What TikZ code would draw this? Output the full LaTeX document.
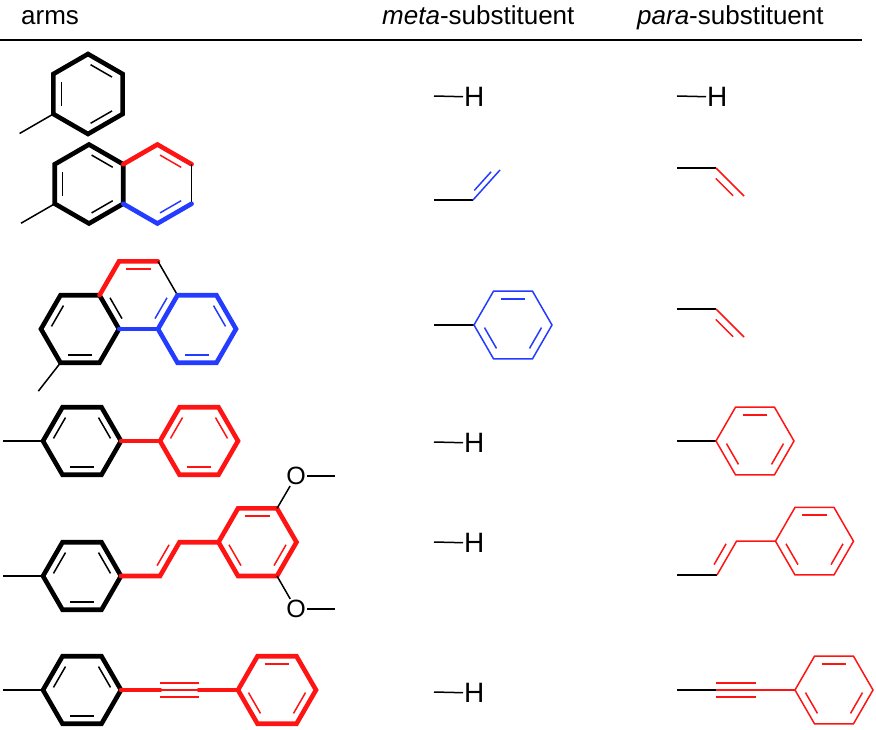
\documentclass[tikz,border=0pt]{standalone}
\usepackage{fontspec}
\setmainfont{Liberation Sans}
\usetikzlibrary{calc}
\definecolor{cred}{RGB}{255,20,20}
\definecolor{cblue}{RGB}{35,60,255}
\tikzset{
  thk/.style={line width=4.6pt,line join=miter,line cap=round},
  thn/.style={line width=1.5pt,line cap=butt},
  txt/.style={inner sep=0pt,font=\fontsize{26}{30}\selectfont},
  atom/.style={inner sep=1pt,font=\fontsize{28}{30}\selectfont},
}
\newcommand\hexat[4]{\foreach \k in {0,...,5}{\coordinate (#1-\k) at ([shift={(#2)}]\k*60+#3:#4);}\coordinate (#1-c) at (#2);}
\newcommand\ring[1]{(#1-0)--(#1-1)--(#1-2)--(#1-3)--(#1-4)--(#1-5)--cycle}
\newcommand\dbl[4][black]{\draw[thn,#1,shorten <=3pt,shorten >=3pt] ($(#4)!0.77!(#2)$) -- ($(#4)!0.77!(#3)$);}
\begin{document}
\begin{tikzpicture}[x=1pt,y=-1pt]
\useasboundingbox (0,0) rectangle (876,730);
% header
\node[txt,anchor=base west] (h1) at (21,25) {arms};
\node[txt,anchor=base west] (h2) at (382,25) {\textit{meta}-substituent};
\node[txt,anchor=base west] (h3) at (637,25) {\textit{para}-substituent};
\draw[line width=2pt] (0,40) -- (862,40);

% row 1
\hexat{A}{88,94}{30}{40}
\draw[thk] \ring{A};
\dbl{A-2}{A-3}{A-c}\dbl{A-4}{A-5}{A-c}\dbl{A-0}{A-1}{A-c}
\coordinate (Am) at ([shift={(A-2)}]150:39);
\draw[thn] (A-2) -- (Am);

% row 2
\hexat{B}{89,184}{30}{39.5}
\hexat{C}{157.4,184}{30}{39.5}
\draw[thk] \ring{B};
\draw[thk,cred] (C-3)--(C-4)--(C-5);
\draw[thn] (C-5)--(C-0);
\draw[thk,cblue] (C-0)--(C-1)--(C-2);
\dbl{B-2}{B-3}{B-c}\dbl{B-4}{B-5}{B-c}\dbl{B-0}{B-1}{B-c}
\dbl[cred]{C-4}{C-5}{C-c}\dbl[cblue]{C-0}{C-1}{C-c}
\coordinate (Bm) at ([shift={(B-2)}]150:39);
\draw[thn] (B-2) -- (Bm);

% row 3
\hexat{D}{80,329}{0}{39}
\hexat{E}{138.5,295.2}{0}{39}
\hexat{F}{197,329}{0}{39}
\draw[thk] \ring{D};
\draw[thk,cred] (E-3)--(E-4)--(E-5);
\draw[thn] (E-5)--(E-0);
\draw[thk,cblue] (E-1)--(E-2);
\draw[thk,cblue] \ring{F};
\dbl{D-3}{D-4}{D-c}\dbl{D-1}{D-2}{D-c}
\dbl{E-2}{E-3}{E-c}\dbl[cred]{E-4}{E-5}{E-c}\dbl[cblue]{E-0}{E-1}{E-c}
\dbl[cblue]{F-5}{F-0}{F-c}\dbl[cblue]{F-1}{F-2}{F-c}
\coordinate (Dm) at ([shift={(D-2)}]128:36);
\draw[thn] (D-2) -- (Dm);

% row 4
\hexat{G}{82,441}{0}{39}
\hexat{H}{199,441}{0}{39}
\draw[thk] \ring{G};
\draw[thk,cred] \ring{H};
\draw[thk,cred] (G-0) -- (H-3);
\dbl{G-3}{G-4}{G-c}\dbl{G-5}{G-0}{G-c}\dbl{G-1}{G-2}{G-c}
\dbl[cred]{H-3}{H-4}{H-c}\dbl[cred]{H-5}{H-0}{H-c}\dbl[cred]{H-1}{H-2}{H-c}
\coordinate (Gm) at (3,441);
\draw[thn] (G-3) -- (Gm);

% row 5
\hexat{I}{82,576}{0}{39}
\coordinate (v1) at (160,576);
\coordinate (v2) at ([shift={(v1)}]300:39);
\coordinate (vc) at ($($(v1)!0.5!(v2)$)+(-29,-17)$);
\hexat{J}{257.5,542.2}{0}{39}
\draw[thk] \ring{I};
\draw[thk,cred] (I-0) -- (v1) -- (v2) -- (J-3);
\draw[thk,cred] \ring{J};
\dbl{I-3}{I-4}{I-c}\dbl{I-5}{I-0}{I-c}\dbl{I-1}{I-2}{I-c}
\dbl[cred]{v1}{v2}{vc}
\dbl[cred]{J-4}{J-5}{J-c}\dbl[cred]{J-0}{J-1}{J-c}\dbl[cred]{J-2}{J-3}{J-c}
\node[inner sep=1pt,font=\fontsize{25}{28}\selectfont] (O1) at (296,476) {O};
\node[inner sep=1pt,font=\fontsize{25}{28}\selectfont] (O2) at (296,609) {O};
\coordinate (O1m) at (335,476);
\coordinate (O2m) at (335,609);
\draw[thn] (J-5) -- (O1); \draw[thn] (O1) -- (O1m);
\draw[thn] (J-1) -- (O2); \draw[thn] (O2) -- (O2m);
\coordinate (Im) at (3,576);
\draw[thn] (I-3) -- (Im);

% row 6
\hexat{K}{82,690}{0}{39}
\coordinate (t2) at (160,690);
\coordinate (t3) at (199,690);
\hexat{L}{277,690}{0}{39}
\draw[thk] \ring{K};
\draw[thk,cred] (K-0) -- (t2);
\draw[thk,cred] (t3) -- (L-3);
\draw[thk,cred] \ring{L};
\draw[thn,cred] (t2) -- (t3);
\draw[thn,cred] ([yshift=-7pt]t2) -- ([yshift=-7pt]t3);
\draw[thn,cred] ([yshift=7pt]t2) -- ([yshift=7pt]t3);
\dbl{K-3}{K-4}{K-c}\dbl{K-5}{K-0}{K-c}\dbl{K-1}{K-2}{K-c}
\dbl[cred]{L-4}{L-5}{L-c}\dbl[cred]{L-0}{L-1}{L-c}\dbl[cred]{L-2}{L-3}{L-c}
\coordinate (Km) at (3,690);
\draw[thn] (K-3) -- (Km);

% meta column
\foreach \n/\y in {m1/96,m4/442,m5/542,m6/692}{
  \node[atom,anchor=west] (\n) at (463,\y+1) {H};
  \coordinate (\n s) at (434,\y);
  \draw[thn] (\n s) -- (\n);
}
\coordinate (m2s) at (434,200); \coordinate (m2a) at (473,200); \coordinate (m2b) at (500,170);
\coordinate (m2c) at (470,168);
\draw[thn] (m2s) -- (m2a);
\draw[thn,cblue] (m2a) -- (m2b);
\dbl[cblue]{m2a}{m2b}{m2c}
\coordinate (m3s) at (434,325);
\hexat{M}{513,325}{0}{39}
\draw[thn] (m3s) -- (M-3);
\draw[thn,cblue,line join=miter] \ring{M};
\dbl[cblue]{M-4}{M-5}{M-c}\dbl[cblue]{M-2}{M-3}{M-c}\dbl[cblue]{M-0}{M-1}{M-c}

% para column
\node[atom,anchor=west] (p1) at (706,97) {H};
\coordinate (p1s) at (677,96);
\draw[thn] (p1s) -- (p1);
\foreach \n/\y in {p2/168,p3/309}{
  \coordinate (\n s) at (677,\y); \coordinate (\n a) at (716,\y); \coordinate (\n b) at (744,\y+28);
  \coordinate (\n c) at (706,\y+36);
  \draw[thn] (\n s) -- (\n a);
  \draw[thn,cred] (\n a) -- (\n b);
  \dbl[cred]{\n a}{\n b}{\n c}
}
\coordinate (p4s) at (677,441);
\hexat{P}{755,441}{0}{39}
\draw[thn] (p4s) -- (P-3);
\draw[thn,cred,line join=miter] \ring{P};
\dbl[cred]{P-4}{P-5}{P-c}\dbl[cred]{P-2}{P-3}{P-c}\dbl[cred]{P-0}{P-1}{P-c}

\coordinate (p5s) at (677,575); \coordinate (p5a) at (717,575);
\coordinate (p5b) at ([shift={(p5a)}]300:39);
\coordinate (p5c) at ($($(p5a)!0.5!(p5b)$)+(-29,-17)$);
\hexat{Q}{814.5,541.2}{0}{39}
\draw[thn] (p5s) -- (p5a);
\draw[thn,cred,line join=miter] (p5a) -- (p5b) -- (Q-3);
\draw[thn,cred,line join=miter] \ring{Q};
\dbl[cred]{p5a}{p5b}{p5c}
\dbl[cred]{Q-4}{Q-5}{Q-c}\dbl[cred]{Q-2}{Q-3}{Q-c}\dbl[cred]{Q-0}{Q-1}{Q-c}

\coordinate (p6s) at (677,690); \coordinate (p6a) at (716,690); \coordinate (p6b) at (756,690);
\hexat{R}{834,690}{0}{39}
\draw[thn] (p6s) -- (p6a);
\draw[thn,cred] (p6a) -- (R-3);
\draw[thn,cred] ([yshift=-7pt]p6a) -- ([yshift=-7pt]p6b);
\draw[thn,cred] ([yshift=7pt]p6a) -- ([yshift=7pt]p6b);
\draw[thn,cred,line join=miter] \ring{R};
\dbl[cred]{R-4}{R-5}{R-c}\dbl[cred]{R-2}{R-3}{R-c}\dbl[cred]{R-0}{R-1}{R-c}
\end{tikzpicture}
\end{document}
